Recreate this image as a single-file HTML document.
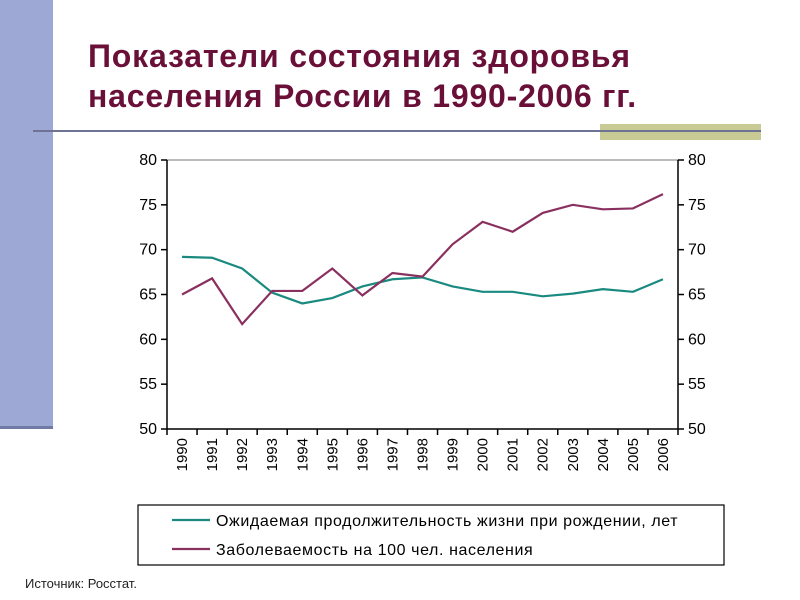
<!DOCTYPE html>
<html><head><meta charset="utf-8"><style>
body{margin:0;width:800px;height:600px;background:#fff;position:relative;overflow:hidden;font-family:"Liberation Sans",sans-serif}
</style></head><body>
<div style="position:absolute;left:0;top:0;width:53px;height:426px;background:#9ea8d4"></div>
<div style="position:absolute;left:0;top:426px;width:53px;height:3px;background:#6f7aa6"></div>
<div style="position:absolute;left:88px;top:36px;font-size:32px;font-weight:bold;color:#6a1038;line-height:40px;letter-spacing:0.8px">Показатели состояния здоровья<br>населения России в 1990-2006 гг.</div>
<div style="position:absolute;left:600px;top:124px;width:161px;height:16px;background:#c8cc94"></div>
<div style="position:absolute;left:33px;top:130px;width:728px;height:2px;background:#6e7294"></div>
<svg width="800" height="600" style="position:absolute;left:0;top:0" id="c"></svg>
<div style="position:absolute;left:25px;top:576px;font-size:13px;color:#222">Источник: Росстат.</div>
<script>
const years=["1990","1991","1992","1993","1994","1995","1996","1997","1998","1999","2000","2001","2002","2003","2004","2005","2006"];
const lifeExp=[69.2,69.1,67.9,65.2,64.0,64.6,65.9,66.7,66.9,65.9,65.3,65.3,64.8,65.1,65.6,65.3,66.7];
const morbidity=[65.0,66.8,61.7,65.4,65.4,67.9,64.9,67.4,67.0,70.6,73.1,72.0,74.1,75.0,74.5,74.6,76.2];
const yTicks=[50,55,60,65,70,75,80];
const NS="http://www.w3.org/2000/svg",svg=document.getElementById('c');
const L=167,R=678,T=160,B=429,bw=(R-L)/years.length;
const x=i=>L+bw*(i+0.5), y=v=>B-(v-50)/30*(B-T);
function mk(t,a,txt){const e=document.createElementNS(NS,t);for(const k in a)e.setAttribute(k,a[k]);if(txt!=null)e.textContent=txt;svg.appendChild(e);return e;}
let e=mk('rect',{x:L,y:T,width:R-L,height:B-T,fill:'none',stroke:'#777','stroke-width':1});

e=mk('line',{x1:L,y1:T,x2:L,y2:B,stroke:'#000','stroke-width':1.5});

e=mk('line',{x1:R,y1:T,x2:R,y2:B,stroke:'#000','stroke-width':1.5});

e=mk('line',{x1:L,y1:B,x2:R,y2:B,stroke:'#000','stroke-width':1.5});

yTicks.forEach(v=>{const yy=y(v);
 mk('line',{x1:L-6,y1:yy,x2:L,y2:yy,stroke:'#000','stroke-width':1.5});
 mk('line',{x1:R,y1:yy,x2:R+6,y2:yy,stroke:'#000','stroke-width':1.5});
 e=mk('text',{x:L-10,y:yy+5,'text-anchor':'end','font-size':16,fill:'#000'},v);
 
 e=mk('text',{x:R+10,y:yy+5,'font-size':16,fill:'#000'},v);
 });
for(let i=0;i<=years.length;i++){const xx=L+bw*i;mk('line',{x1:xx,y1:B,x2:xx,y2:B+6,stroke:'#000','stroke-width':1.5});}
years.forEach((yr,i)=>{e=mk('text',{transform:`translate(${x(i)+5},${B+9}) rotate(-90)`,'text-anchor':'end','font-size':15,fill:'#000'},yr);
 });
function line(d,c,n){e=mk('polyline',{points:d.map((v,i)=>x(i)+','+y(v)).join(' '),fill:'none',stroke:c,'stroke-width':2.2});
 }
line(lifeExp,'#1a8a80','life-expectancy-line');
line(morbidity,'#8a3060','morbidity-line');
e=mk('rect',{x:138,y:505,width:586,height:60,fill:'#fff',stroke:'#000','stroke-width':1.2});

mk('line',{x1:172,y1:520,x2:210,y2:520,stroke:'#1a8a80','stroke-width':2.2});
e=mk('text',{x:216,y:526,'font-size':16,'letter-spacing':0.6,fill:'#000'},'Ожидаемая продолжительность жизни при рождении, лет');

mk('line',{x1:172,y1:549,x2:210,y2:549,stroke:'#8a3060','stroke-width':2.2});
e=mk('text',{x:216,y:555,'font-size':16,'letter-spacing':0.6,fill:'#000'},'Заболеваемость на 100 чел. населения');

</script>
</body></html>
